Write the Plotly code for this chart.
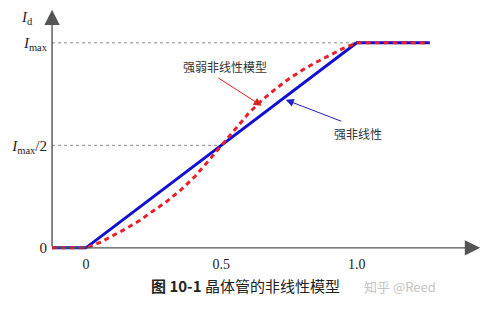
import plotly.graph_objects as go

# data
blue_x = [-0.125, 0.0, 1.0, 1.27]
blue_y = [0.0, 0.0, 1.0, 1.0]
red_x = [-0.125, 0.0, 0.05, 0.1, 0.15, 0.2, 0.25, 0.3, 0.35, 0.4, 0.45, 0.5,
         0.55, 0.6, 0.65, 0.7, 0.75, 0.8, 0.85, 0.9, 0.95, 1.0, 1.27]
red_y = [0.0, 0.0, 0.025, 0.058, 0.095, 0.135, 0.18, 0.228, 0.282, 0.345, 0.42, 0.5,
         0.58, 0.655, 0.72, 0.775, 0.825, 0.868, 0.905, 0.94, 0.973, 1.0, 1.0]
x_tickvals = [0, 0.5, 1.0]
x_ticktext = ["0", "0.5", "1.0"]
y_tickvals = [0, 0.5, 1.0]
y_ticktext = ["0", "<i>I</i><sub>max</sub>/2", "<i>I</i><sub>max</sub>"]
y_axis_title = "<i>I</i><sub>d</sub>"
x_axis_title = "<i>V</i><sub>g</sub>"
label_red = "强弱非线性模型"
label_blue = "强非线性"
caption_bold = "图 10-1"
caption_rest = " 晶体管的非线性模型"
watermark = "知乎 @Reed"

SERIF = "Liberation Serif, Times New Roman, serif"
CJK = "Noto Sans CJK SC"

fig = go.Figure()
fig.add_trace(go.Scatter(x=blue_x, y=blue_y, mode="lines",
                         line=dict(color="#1010d0", width=3), cliponaxis=False, hoverinfo="skip"))
fig.add_trace(go.Scatter(x=red_x, y=red_y, mode="lines",
                         line=dict(color="#e8202a", width=3, dash="5px,4px"), cliponaxis=False,
                         hoverinfo="skip"))

# dotted reference lines
for yv, xe in [(1.0, 1.0), (0.5, 0.5)]:
    fig.add_shape(type="line", x0=-0.125, x1=xe, y0=yv, y1=yv,
                  line=dict(color="#888", width=1, dash="dot"), layer="below")

# axes with arrows
fig.add_annotation(x=1.456, y=0, ax=-0.125, ay=0, xref="x", yref="y", axref="x", ayref="y",
                   text="", showarrow=True, arrowhead=2, arrowsize=2.2, arrowwidth=1.4,
                   arrowcolor="#555")
fig.add_annotation(x=-0.125, y=1.162, ax=-0.125, ay=0, xref="x", yref="y", axref="x", ayref="y",
                   text="", showarrow=True, arrowhead=2, arrowsize=2.2, arrowwidth=1.4,
                   arrowcolor="#555")

# pointer arrows
fig.add_annotation(x=0.649, y=0.693, ax=0.483, ay=0.834, xref="x", yref="y", axref="x", ayref="y",
                   text="", showarrow=True, arrowhead=2, arrowsize=1.6, arrowwidth=1,
                   arrowcolor="#e02020")
fig.add_annotation(x=0.738, y=0.722, ax=0.948, ay=0.615, xref="x", yref="y", axref="x", ayref="y",
                   text="", showarrow=True, arrowhead=2, arrowsize=1.6, arrowwidth=1,
                   arrowcolor="#2020c0")

fig.add_annotation(x=0.513, y=0.883, xref="x", yref="y", text=label_red, showarrow=False,
                   font=dict(family=CJK, size=12, color="#333"))
fig.add_annotation(x=1.004, y=0.556, xref="x", yref="y", text=label_blue, showarrow=False,
                   font=dict(family=CJK, size=12, color="#333"))
fig.add_annotation(x=1.417, y=-0.085, xref="x", yref="y", text=x_axis_title,
                   showarrow=False, font=dict(family=SERIF, size=15, color="#222"))
fig.add_annotation(x=-0.03, y=1.122, xref="paper", yref="y", xanchor="right", text=y_axis_title,
                   showarrow=False, font=dict(family=SERIF, size=15, color="#222"))

fig.add_annotation(x=0.452, y=-0.18, xref="paper", yref="paper",
                   text="<b>" + caption_bold + "</b>" + caption_rest, showarrow=False,
                   font=dict(family=CJK, size=15, color="#222"))
fig.add_annotation(x=0.894, y=-0.18, xref="paper", yref="paper", text=watermark,
                   showarrow=False, font=dict(family=CJK, size=13, color="#c4c4c4"))

fig.update_layout(
    width=493, height=313,
    margin=dict(l=48, r=9, t=8, b=59),
    paper_bgcolor="white", plot_bgcolor="white",
    showlegend=False,
    xaxis=dict(range=[-0.14, 1.47], showgrid=False, zeroline=False, showline=False,
               tickvals=x_tickvals, ticktext=x_ticktext, ticks="",
               tickfont=dict(family=SERIF, size=14, color="#222")),
    yaxis=dict(range=[-0.03, 1.17], showgrid=False, zeroline=False, showline=False,
               tickvals=y_tickvals, ticktext=y_ticktext, ticks="",
               tickfont=dict(family=SERIF, size=15, color="#222")),
)

fig.write_html("out.html")
